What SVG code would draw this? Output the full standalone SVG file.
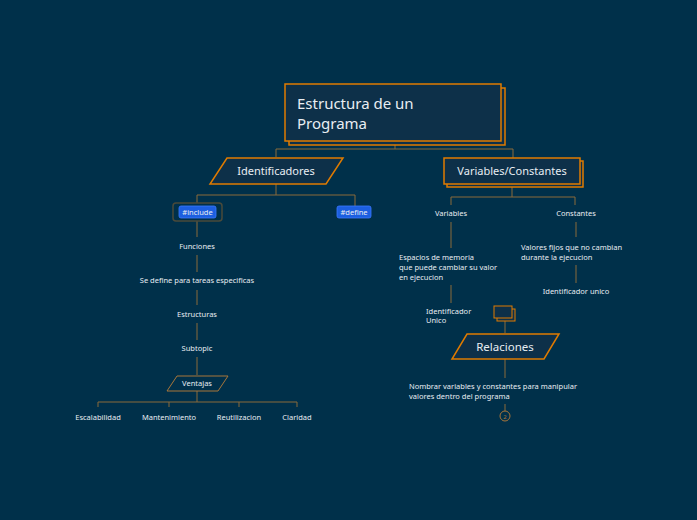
<svg xmlns="http://www.w3.org/2000/svg" width="697" height="520" viewBox="0 0 697 520">
<style>
text{font-family:"Noto Sans","Liberation Sans",sans-serif;fill:#e8edf2}
.s{font-size:7.5px}
.m{font-size:11px}
.o{fill:#0d3049;stroke:#e07b00;stroke-width:1.5}
.c{fill:none;stroke:#8a6a3a;stroke-width:1}
.t{fill:#1c5fe0;stroke:#3b78ff;stroke-width:0.8}
</style>
<rect width="697" height="520" fill="#00304a"/>
<g id="connectors" class="c">
<path d="M395 145V149M276 157V149H513V158"/>
<path d="M276 184V195M197 203V195H355V206"/>
<path d="M512 184V197M451 205V197H575V205"/>
<path d="M197 221V237M197 255V272M197 290V305M197 323V340M197 357V375"/>
<path d="M197 391V402M98 407V402H297V407M169 402V407M239 402V407"/>
<path d="M451 222V248M451 285V303M576 222V237M576 265V283"/>
<path d="M505 321V333M505 359V378M505 404V411"/>
</g>
<g id="root"><rect class="o" x="289" y="88" width="216" height="57"/><rect class="o" x="285" y="84" width="216" height="57"/>
<text x="297" y="109" font-size="15">Estructura de un</text><text x="297" y="129" font-size="15">Programa</text></g>
<g id="identificadores"><polygon class="o" points="227,158 343,158 326,184 210,184"/><text class="m" x="276" y="175" text-anchor="middle">Identificadores</text></g>
<g id="varconst"><rect class="o" x="447" y="161" width="136" height="26"/><rect class="o" x="444" y="158" width="136" height="26"/><text class="m" x="512" y="175" text-anchor="middle">Variables/Constantes</text></g>
<g id="include"><rect x="173" y="203" width="49" height="18" rx="3" fill="none" stroke="#4a4a3a" stroke-width="1.5"/><rect class="t" x="179" y="206" width="37" height="12" rx="2"/><text class="s" x="197.5" y="215" text-anchor="middle">#include</text></g>
<g id="define"><rect class="t" x="337" y="206" width="34" height="12" rx="2"/><text class="s" x="354" y="215" text-anchor="middle">#define</text></g>
<g id="funciones"><text class="s" x="197" y="249" text-anchor="middle">Funciones</text></g>
<g id="sedefine"><text class="s" x="197" y="283" text-anchor="middle">Se define para tareas especificas</text></g>
<g id="estructuras"><text class="s" x="197" y="317" text-anchor="middle">Estructuras</text></g>
<g id="subtopic"><text class="s" x="197" y="351" text-anchor="middle">Subtopic</text></g>
<g id="ventajas"><polygon points="177,376 228,376 218,391 167,391" fill="none" stroke="#a8763a" stroke-width="1"/><text class="s" x="197" y="386" text-anchor="middle">Ventajas</text></g>
<g id="escalabilidad"><text class="s" x="98" y="420" text-anchor="middle">Escalabilidad</text></g>
<g id="mantenimiento"><text class="s" x="169" y="420" text-anchor="middle">Mantenimiento</text></g>
<g id="reutilizacion"><text class="s" x="239" y="420" text-anchor="middle">Reutilizacion</text></g>
<g id="claridad"><text class="s" x="297" y="420" text-anchor="middle">Claridad</text></g>
<g id="variables"><text class="s" x="451" y="216" text-anchor="middle">Variables</text></g>
<g id="constantes"><text class="s" x="576" y="216" text-anchor="middle">Constantes</text></g>
<g id="espacios"><text class="s" x="399" y="260">Espacios de memoria</text><text class="s" x="399" y="270">que puede cambiar su valor</text><text class="s" x="399" y="280">en ejecucion</text></g>
<g id="valores"><text class="s" x="521" y="250">Valores fijos que no cambian</text><text class="s" x="521" y="260">durante la ejecucion</text></g>
<g id="idunico"><text class="s" x="576" y="294" text-anchor="middle">Identificador unico</text></g>
<g id="idUnico2"><text class="s" x="426" y="314">Identificador</text><text class="s" x="426" y="323">Unico</text></g>
<g id="smallbox"><rect x="497" y="309" width="18" height="12" fill="#0d3049" stroke="#e07b00" stroke-width="1"/><rect x="494" y="306" width="18" height="12" fill="#0d3049" stroke="#e07b00" stroke-width="1"/></g>
<g id="relaciones"><polygon class="o" points="467,334 559,334 544,359 452,359"/><text x="505" y="351" font-size="11.5" text-anchor="middle">Relaciones</text></g>
<g id="nombrar"><text class="s" x="409" y="389">Nombrar variables y constantes para manipular</text><text class="s" x="409" y="399">valores dentro del programa</text></g>
<g id="badge"><circle cx="505" cy="416" r="5" fill="none" stroke="#a8763a" stroke-width="1"/><text x="505" y="418.5" font-size="6" text-anchor="middle" style="fill:#a8763a">2</text></g>
</svg>
